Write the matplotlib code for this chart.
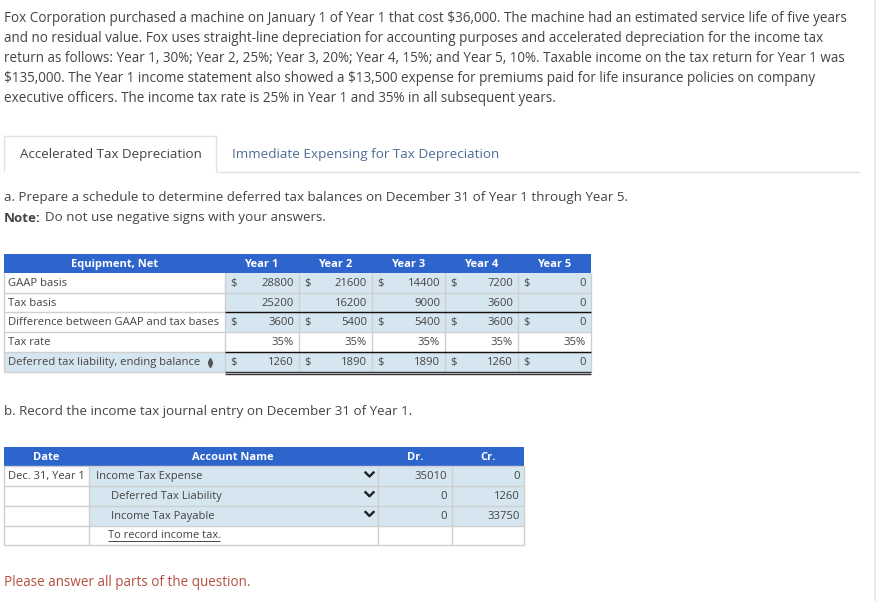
import matplotlib
matplotlib.use('Agg')
import matplotlib.pyplot as plt
from matplotlib.patches import Rectangle

plt.rcParams['font.family'] = ['Open Sans', 'DejaVu Sans']

problem_lines = [
    'Fox Corporation purchased a machine on January 1 of Year 1 that cost $36,000. The machine had an estimated service life of five years',
    'and no residual value. Fox uses straight-line depreciation for accounting purposes and accelerated depreciation for the income tax',
    'return as follows: Year 1, 30%; Year 2, 25%; Year 3, 20%; Year 4, 15%; and Year 5, 10%. Taxable income on the tax return for Year 1 was',
    '$135,000. The Year 1 income statement also showed a $13,500 expense for premiums paid for life insurance policies on company',
    'executive officers. The income tax rate is 25% in Year 1 and 35% in all subsequent years.',
]

years = ['Year 1', 'Year 2', 'Year 3', 'Year 4', 'Year 5']
row_labels = ['GAAP basis', 'Tax basis', 'Difference between GAAP and tax bases',
              'Tax rate', 'Deferred tax liability, ending balance']
gaap_basis = [28800, 21600, 14400, 7200, 0]
tax_basis = [25200, 16200, 9000, 3600, 0]
difference = [3600, 5400, 5400, 3600, 0]
tax_rate = ['35%', '35%', '35%', '35%', '35%']
deferred = [1260, 1890, 1890, 1260, 0]

journal_head = ['Date', 'Account Name', 'Dr.', 'Cr.']
accounts = ['Income Tax Expense', 'Deferred Tax Liability', 'Income Tax Payable']
debits = [35010, 0, 0]
credits = [0, 1260, 33750]

BLUE = '#2d65cd'
CELL = '#d5e6f0'
GRID = '#cfcfcf'
TXT = '#444444'

fig = plt.figure(figsize=(8.78, 6.01), dpi=100)
ax = fig.add_axes([0, 0, 1, 1])
ax.set_xlim(0, 878)
ax.set_ylim(601, 0)
ax.axis('off')


def rect(x0, y0, x1, y1, color):
    ax.add_patch(Rectangle((x0, y0), x1 - x0, y1 - y0, fc=color, ec='none', zorder=1))


def hline(x0, x1, y, color=GRID, lw=1.0):
    ax.plot([x0, x1], [y, y], color=color, lw=lw, zorder=2, solid_capstyle='butt')


def vline(x, y0, y1, color=GRID, lw=1.0):
    ax.plot([x, x], [y0, y1], color=color, lw=lw, zorder=2, solid_capstyle='butt')


# problem text
for i, line in enumerate(problem_lines):
    ax.text(4, 18 + i * 20.2, line, fontsize=9.74, color=TXT, va='center', parse_math=False)

# tabs
vline(875.5, 0, 601, '#e4e4e4', 1.2)
hline(217, 860, 171.5, '#e2e2e2')
vline(4.5, 135, 171, '#e2e2e2')
vline(216.5, 135, 171.5, '#e2e2e2')
hline(4, 217, 135.5, '#e2e2e2')
ax.text(20, 154.3, 'Accelerated Tax Depreciation', fontsize=9.65, color=TXT, va='center')
ax.text(232, 154.3, 'Immediate Expensing for Tax Depreciation', fontsize=9.7, color='#4f6d96', va='center')

# part a
ax.text(4, 197.2, 'a. Prepare a schedule to determine deferred tax balances on December 31 of Year 1 through Year 5.',
        fontsize=9.63, color=TXT, va='center')
ax.text(4, 218, 'Note:', fontsize=9.63, color=TXT, va='center', fontweight='bold')
ax.text(45, 218, 'Do not use negative signs with your answers.', fontsize=9.63, color=TXT, va='center')

# schedule table
col_x = [225, 299, 372, 445, 518, 591]
row_y = [273, 292.5, 312, 332, 352, 372]
rect(4, 254, 591, 273, BLUE)
ax.text(115, 264.5, 'Equipment, Net', fontsize=8, color='white', fontweight='bold', ha='center', va='center')
for j, y in enumerate(years):
    ax.text((col_x[j] + col_x[j + 1]) / 2 - 0.5, 264.5, y, fontsize=8, color='white',
            fontweight='bold', ha='center', va='center')

rows = [gaap_basis, tax_basis, difference, tax_rate, deferred]
for r, values in enumerate(rows):
    y0, y1 = row_y[r], row_y[r + 1]
    ym = (y0 + y1) / 2 + 0.8
    if r == 4:
        rect(4, y0, 225, y1, CELL)
    if r != 3:
        rect(225, y0, 591, y1, CELL)
    ax.text(8.5, ym, row_labels[r], fontsize=8.1, color=TXT, va='center')
    for j, v in enumerate(values):
        if r in (0, 2, 4):
            ax.text(col_x[j] + 5.5, ym, '$', fontsize=8, color=TXT, va='center', parse_math=False)
        ax.text(col_x[j + 1] - 5, ym, str(v), fontsize=8.1, color=TXT, ha='right', va='center')
    hline(4, 591, y1)
vline(4.5, 273, 372)
for x in col_x[:-1]:
    vline(x, 273, 372)
vline(591, 273, 372)
hline(225, 591, 312, '#111111', 1.0)
hline(225, 591, 352, '#111111', 1.0)
hline(225, 591, 372, '#333333', 1.0)
hline(225, 591, 374, '#333333', 1.0)
ax.plot(210, 359.8, marker='^', ms=3.0, color='#555555', zorder=3)
ax.plot(210, 365, marker='v', ms=3.0, color='#555555', zorder=3)

# part b
ax.text(4, 411.5, 'b. Record the income tax journal entry on December 31 of Year 1.', fontsize=9.63, color=TXT, va='center')

# journal table
jx = [4, 89, 378, 452, 524]
jy = [466, 486, 505.5, 525.5, 544.5]
rect(4, 447, 524, 466, BLUE)
ax.text(46, 457, journal_head[0], fontsize=8, color='white', fontweight='bold', ha='center', va='center')
ax.text(233, 457, journal_head[1], fontsize=8, color='white', fontweight='bold', ha='center', va='center')
ax.text(415, 457, journal_head[2], fontsize=8, color='white', fontweight='bold', ha='center', va='center')
ax.text(488, 457, journal_head[3], fontsize=8, color='white', fontweight='bold', ha='center', va='center')
rect(89, 466, 524, 525.5, CELL)
ax.text(8.5, 476, 'Dec. 31, Year 1', fontsize=8.05, color=TXT, va='center')
for i, name in enumerate(accounts):
    ym = (jy[i] + jy[i + 1]) / 2
    ax.text(96.5 if i == 0 else 111, ym + 0.7, name, fontsize=8.05, color=TXT, va='center')
    ax.plot([365.5, 369.5, 373.5], [ym - 3.5, ym + 0.5, ym - 3.5], color='#222222', lw=1.7, zorder=3)
    ax.text(447, ym + 0.7, str(debits[i]), fontsize=8.1, color=TXT, ha='right', va='center')
    ax.text(520, ym + 0.7, str(credits[i]), fontsize=8.1, color=TXT, ha='right', va='center')
ax.text(108, 536, 'To record income tax.', fontsize=8.05, color=TXT, va='center')
hline(108, 220, 541, TXT, 0.7)
for y in jy:
    hline(4, 524, y)
for x in jx:
    vline(x + 0.5 if x == 4 else x, 466, 544.5)

ax.text(4, 582, 'Please answer all parts of the question.', fontsize=9.75, color='#b5503f', va='center')

fig.savefig('out.png', dpi=100)
